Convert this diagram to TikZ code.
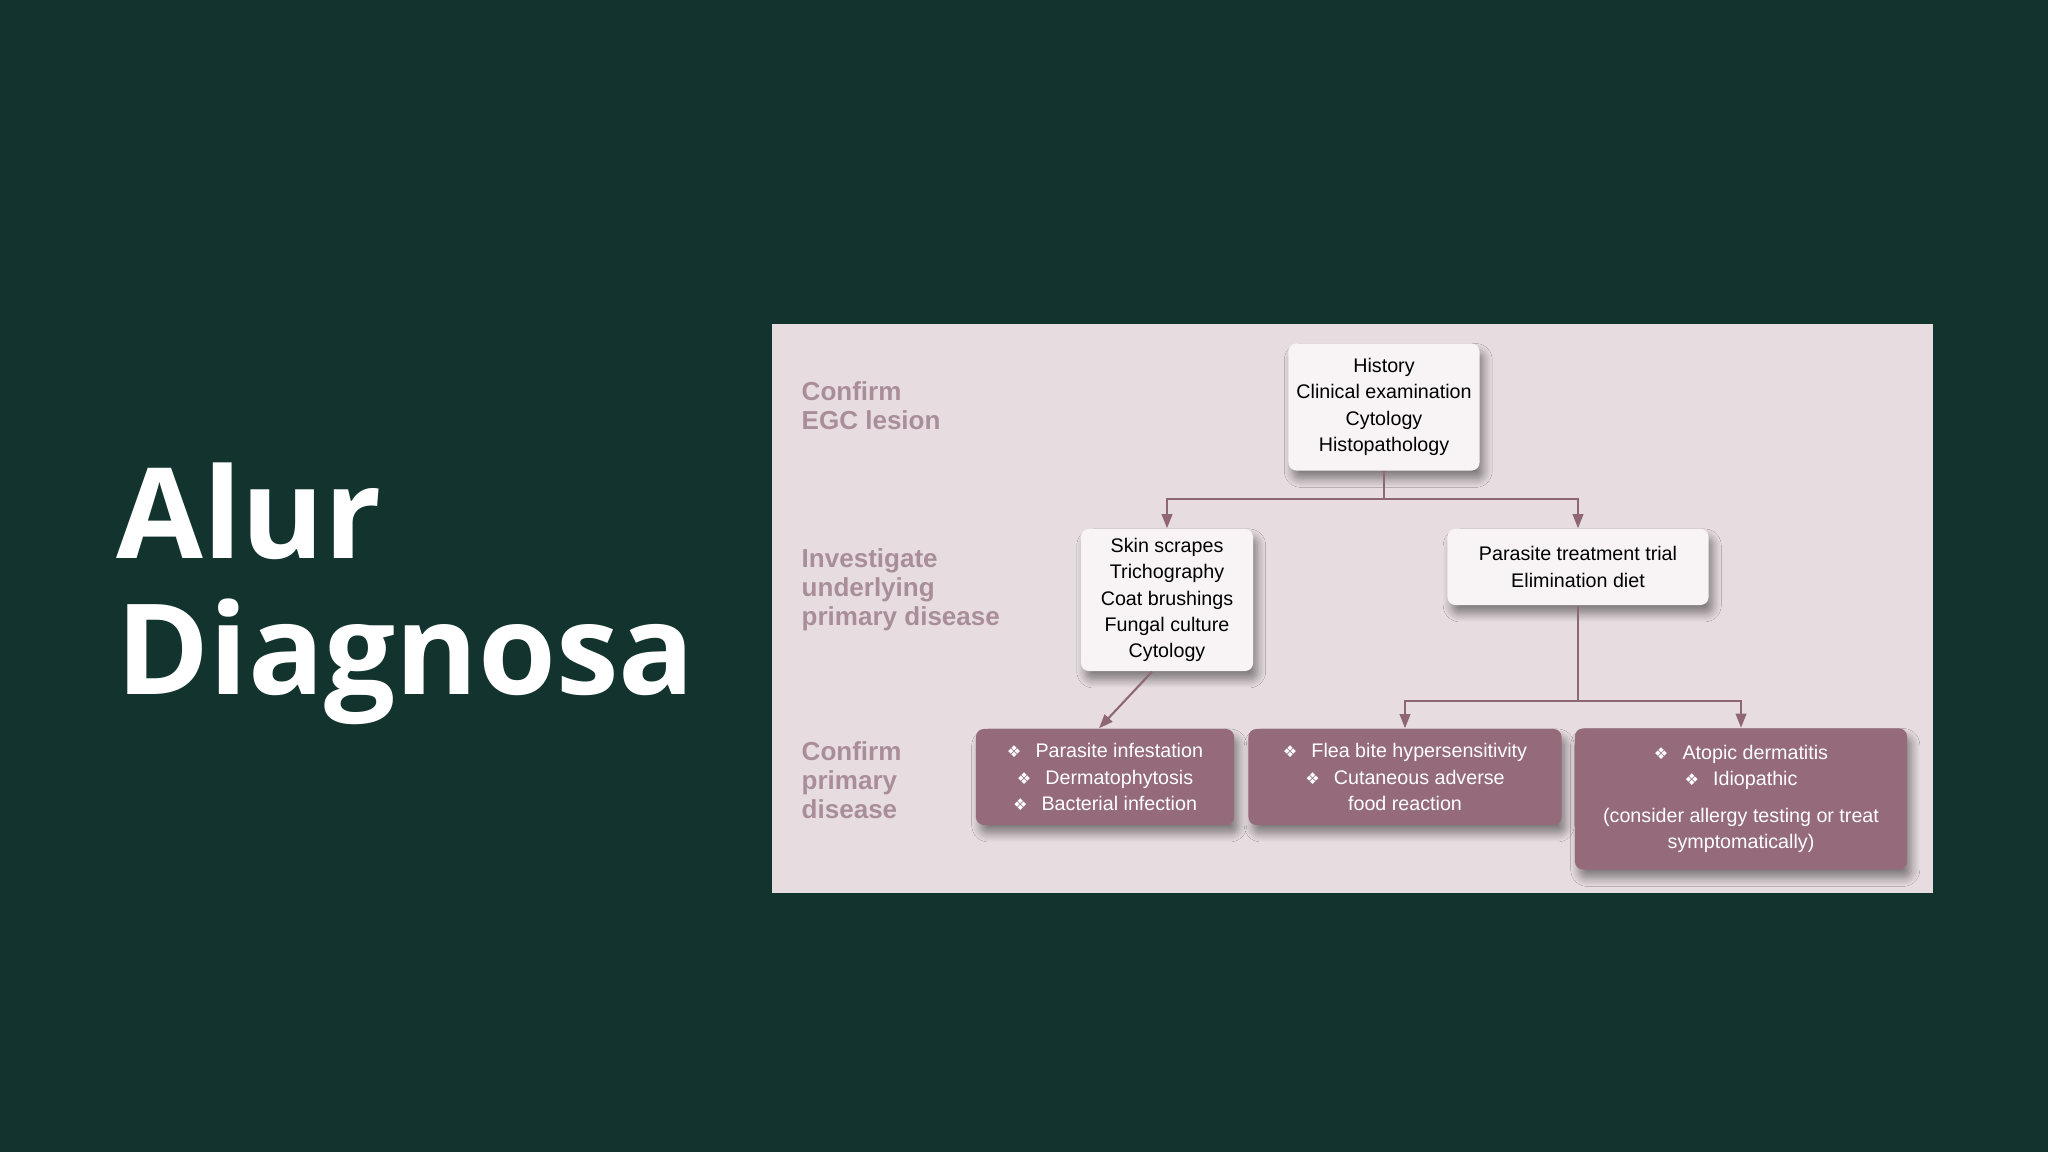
\documentclass[tikz,border=0pt]{standalone}
\usepackage{fontspec}
\setmainfont{Liberation Sans}
\newfontfamily\titlefont{Open Sans}
\newfontfamily\symfont{DejaVu Sans}
\usetikzlibrary{arrows.meta,shadows.blur}
\definecolor{slidebg}{HTML}{12332E}
\definecolor{panelbg}{HTML}{E7DDE1}
\definecolor{stagetext}{HTML}{A98E9A}
\definecolor{linkcol}{HTML}{8E6676}
\definecolor{diagfill}{HTML}{956B7B}
\definecolor{testfill}{HTML}{F8F4F6}
\newcommand{\dia}{{\symfont\fontsize{4.6}{5}\selectfont ❖}\hspace{4pt}}
\begin{document}
\begin{tikzpicture}[x=0.01cm,y=-0.01cm,
    stagelabel/.style={anchor=west,align=left,inner sep=0pt,text=stagetext,
      font=\bfseries\fontsize{7.4}{8.2}\selectfont},
    titleline/.style={anchor=base west,inner sep=0pt,text=white,
      font=\titlefont\bfseries\fontsize{35.8}{38}\selectfont},
    testbox/.style={draw=none,fill=testfill,rounded corners=0.08cm,align=center,
      inner sep=0pt,text=black,font=\fontsize{5.6}{7.5}\selectfont,
      blur shadow={shadow xshift=1.2pt,shadow yshift=-2.4pt,shadow blur radius=2.4pt,
        shadow blur steps=10,shadow opacity=45}},
    diagbox/.style={testbox,fill=diagfill,text=white},
    link/.style={draw=linkcol,line width=0.6pt}]
  \useasboundingbox (0,0) rectangle (2048,1152);
  \fill[slidebg] (0,0) rectangle (2048,1152);
  \fill[panelbg] (772,324) rectangle (1933,893);

  \node (title1) [titleline] at (116,559) {Alur};
  \node (title2) [titleline] at (116,695) {Diagnosa};

  \node (s1) [stagelabel] at (801,406) {Confirm\\EGC lesion};
  \node (s2) [stagelabel] at (801,590) {Investigate\\underlying\\primary disease};
  \node (s3) [stagelabel] at (801,780) {Confirm\\primary\\disease};

  \node (top) [testbox,minimum width=1.91cm,minimum height=1.27cm] at (1384,407)
    {History\\Clinical examination\\Cytology\\Histopathology};
  \node (tests) [testbox,minimum width=1.72cm,minimum height=1.42cm] at (1167,600)
    {Skin scrapes\\Trichography\\Coat brushings\\Fungal culture\\Cytology};
  \node (trial) [testbox,minimum width=2.61cm,minimum height=0.76cm] at (1578,567)
    {Parasite treatment trial\\Elimination diet};
  \node (b1) [diagbox,minimum width=2.58cm,minimum height=0.96cm] at (1105,777)
    {\dia Parasite infestation\\\dia Dermatophytosis\\\dia Bacterial infection};
  \node (b2) [diagbox,minimum width=3.13cm,minimum height=0.96cm] at (1405,777)
    {\dia Flea bite hypersensitivity\\\dia Cutaneous adverse\\food reaction};
  \node (b3) [diagbox,minimum width=3.32cm,minimum height=1.41cm] at (1741,799)
    {\dia Atopic dermatitis\\\dia Idiopathic\\[3pt](consider allergy testing or treat\\symptomatically)};

  \coordinate (split1) at (1384,499);
  \coordinate (split2) at (1578,701);
  \begin{scope}[-{Triangle[length=4pt,width=3pt]}]
    \draw[link,-] (top.south) to (split1);
    \draw[link] (split1) -| (tests.north);
    \draw[link] (split1) -| (trial.north);
    \draw[link,-] (trial.south) to (split2);
    \draw[link] (split2) -| (b2.north);
    \draw[link] (split2) -| (b3.north);
    \draw[link] ([xshift=-0.15cm]tests.south) to ([xshift=-0.06cm]b1.north);
  \end{scope}
\end{tikzpicture}
\end{document}
